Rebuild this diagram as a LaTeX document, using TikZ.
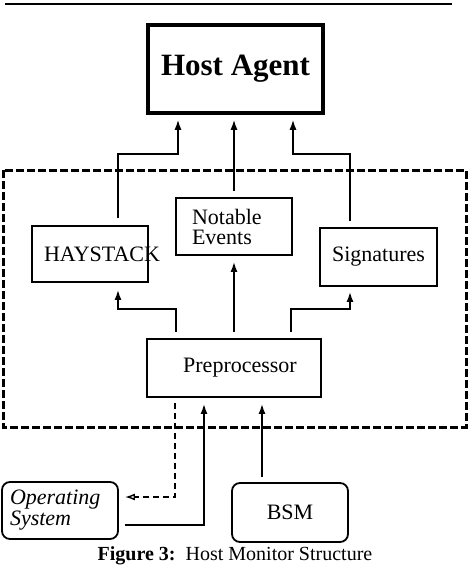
\documentclass[tikz,border=0pt]{standalone}
\usepackage{fontspec}
\setmainfont{Liberation Serif}
\usetikzlibrary{arrows.meta}

\begin{document}
\begin{tikzpicture}[x=1pt,y=-1pt,font=\fontsize{22}{20}\selectfont,
  blk/.style={draw,line width=1.8pt,minimum width=116pt,minimum height=57pt,
              inner sep=0pt},
  rblk/.style={blk,rounded corners=8pt},
  link/.style={line width=1.6pt,-{Latex[length=10pt,width=7pt]}},
  dlink/.style={line width=1.4pt,dash pattern=on 6pt off 4pt,
                -{Latex[open,length=10pt,width=7pt]}}]
\useasboundingbox (0,0) rectangle (474,567);
\draw[line width=1.5pt] (5,4) -- (452,4);

\node[blk,line width=3.5pt,minimum width=175pt,minimum height=88pt,
      font=\fontsize{31}{31}\selectfont\bfseries] (host) at (235.5,69) {Host Agent};
\node[blk,text width=84pt,inner xsep=16pt,align=left] (notable) at (234,226.5)
  {Notable\\Events};
\node[blk,minimum height=56pt] (hay) at (90,254)
  {\hspace*{8pt}\makebox[100pt][l]{HAYSTACK}};
\node[blk,minimum width=117pt,minimum height=58pt] (sig) at (378.5,257) {Signatures};
\node[blk,minimum width=174pt,minimum height=58pt] (pre) at (234,368)
  {\hspace*{12pt}Preprocessor};
\node[rblk,text width=100pt,inner xsep=7pt,align=left,font=\fontsize{22}{21}\selectfont\itshape]
  (os) at (60,510.5) {Operating\\System};
\node[rblk,minimum height=59pt] (bsm) at (290,512.5) {BSM};

\draw[line width=3pt,dash pattern=on 8pt off 3pt] (3,170) rectangle (466,427);

\draw[link] ([xshift=28pt,yshift=7pt]hay.north) -- ++(0,-64)
  -| ([xshift=-57.5pt,yshift=-5pt]host.south);
\draw[link] ([yshift=6pt]notable.north) -- ([yshift=-5pt]host.south -| notable.north);
\draw[link] ([xshift=-28.5pt,yshift=6pt]sig.north) -- ++(0,-67)
  -| ([xshift=57.5pt,yshift=-5pt]host.south);

\draw[link] ([xshift=-58pt,yshift=6pt]pre.north) -- ++(0,-23)
  -| ([xshift=28pt,yshift=-7pt]hay.south);
\draw[link] ([yshift=6pt]pre.north) -- ([yshift=-6pt]notable.south);
\draw[link] ([xshift=57pt,yshift=6pt]pre.north) -- ++(0,-23)
  -| ([xshift=-28.5pt,yshift=-5pt]sig.south);

\draw[dlink] ([xshift=-59pt,yshift=-5pt]pre.south)
  |- ([xshift=6pt,yshift=13.5pt]os.east);
\draw[link] ([xshift=6pt,yshift=-14.5pt]os.east)
  -| ([xshift=-30pt,yshift=-6pt]pre.south);
\draw[link] ([xshift=-28pt,yshift=5pt]bsm.north) -- ([xshift=28pt,yshift=-6pt]pre.south);

\node[font=\fontsize{20}{20}\selectfont,anchor=base] (cap) at (235,560)
  {\textbf{Figure 3:}\ \ Host Monitor Structure};
\end{tikzpicture}
\end{document}
